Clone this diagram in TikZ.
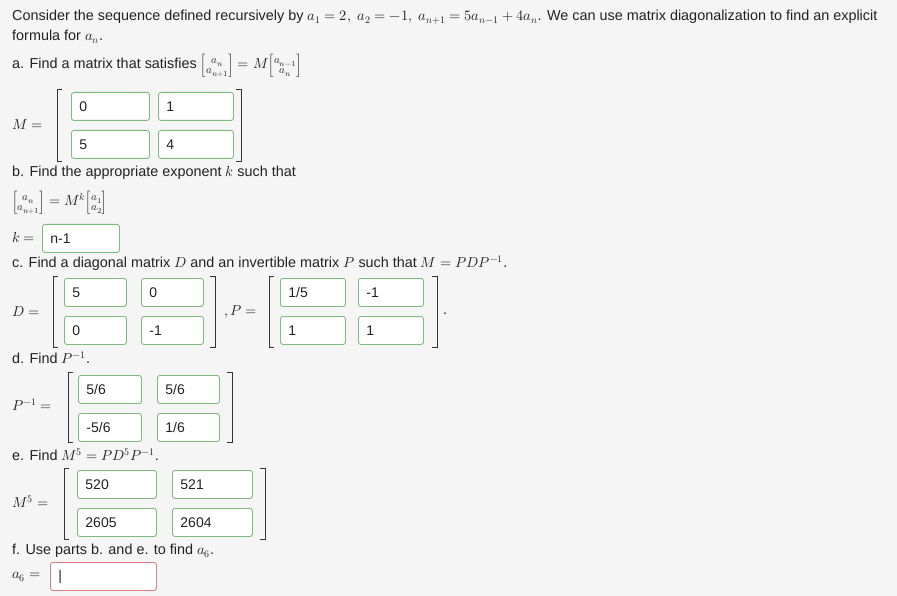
\documentclass[tikz,border=0pt]{standalone}
\usepackage{fontspec}
\setmainfont{Liberation Sans}
\usepackage{unicode-math}
\setmathfont{Latin Modern Math}
\definecolor{bg}{HTML}{F5F5F5}
\definecolor{okgreen}{HTML}{7DBB7D}
\definecolor{badred}{HTML}{E08080}
\definecolor{txt}{HTML}{222222}
\tikzset{
  t/.style={anchor=west, inner sep=0pt, font=\fontsize{14.4}{16}\selectfont, text=txt},
  ans/.style={draw=okgreen, line width=0.9pt, fill=white, rounded corners=2.5pt, anchor=north west,
     inner xsep=8pt, inner ysep=0pt, minimum height=28pt, align=left, font=\fontsize{14}{16}\selectfont, text=txt},
  brk/.style={draw=black!80, line width=0.8pt}
}
\newcommand{\lbrk}[3]{\draw[brk] (#1+5,#2) -- (#1,#2) -- (#1,#3) -- (#1+5,#3);}
\newcommand{\rbrk}[3]{\draw[brk] (#1-5,#2) -- (#1,#2) -- (#1,#3) -- (#1-5,#3);}
\newcommand{\smat}[2]{{\fontsize{11}{12}\selectfont$\left[\begin{matrix}#1\\[-2pt] #2\end{matrix}\right]$}}
\begin{document}
\begin{tikzpicture}[x=1pt,y=-1pt]
\useasboundingbox[fill=bg] (0,0) rectangle (897,596);
\node[t] (l1) at (12,17) {Consider the sequence defined recursively by $a_1=2,\ a_2=-1,\ a_{n+1}=5a_{n-1}+4a_n$. We can use matrix diagonalization to find an explicit};
\node[t] (l2) at (12,37) {formula for $a_n$.};
\node[t] (la) at (12,66) {a. Find a matrix that satisfies \smat{a_n}{a_{n+1}}${}=M$\smat{a_{n-1}}{a_n}};
% M
\node[t] (Meq) at (12,125) {$M=$};
\lbrk{57}{89}{161}
\node[ans, text width=62pt] (m11) at (71,92) {0};
\node[ans, text width=59pt] (m12) at (158,92) {1};
\node[ans, text width=62pt] (m21) at (71,130) {5};
\node[ans, text width=59pt] (m22) at (158,130) {4};
\rbrk{241}{89}{161}
% b
\node[t] (lb) at (12,173) {b. Find the appropriate exponent $k$ such that};
\node[t] (lb2) at (12,203) {\smat{a_n}{a_{n+1}}${}=M^k$\smat{a_1}{a_2}};
\node[t] (keq) at (12,238) {$k=$};
\node[ans, text width=61pt] (k) at (42,224) {n-1};
% c
\node[t] (lc) at (12,263) {c. Find a diagonal matrix $D$ and an invertible matrix $P$ such that $M=PDP^{-1}$.};
\node[t] (Deq) at (12,312) {$D=$};
\lbrk{53}{276}{347}
\node[ans, text width=46pt] (d11) at (64,278) {5};
\node[ans, text width=46pt] (d12) at (141,278) {0};
\node[ans, text width=46pt] (d21) at (64,316) {0};
\node[ans, text width=46pt] (d22) at (141,316) {-1};
\rbrk{215}{276}{347}
\node[t] (Peq) at (224,312) {$,P=$};
\lbrk{269}{276}{347}
\node[ans, text width=49pt] (p11) at (280,278) {1/5};
\node[ans, text width=49pt] (p12) at (358,278) {-1};
\node[ans, text width=49pt] (p21) at (280,316) {1};
\node[ans, text width=49pt] (p22) at (358,316) {1};
\rbrk{437}{276}{347}
\node[t] (dot) at (443,314) {.};
% d
\node[t] (ld) at (12,358) {d. Find $P^{-1}$.};
\node[t] (Pieq) at (12,405) {$P^{-1}=$};
\lbrk{68}{372}{442}
\node[ans, text width=47pt] (q11) at (78,375) {5/6};
\node[ans, text width=46pt] (q12) at (157,375) {5/6};
\node[ans, text width=47pt] (q21) at (78,413) {-5/6};
\node[ans, text width=46pt] (q22) at (157,413) {1/6};
\rbrk{232}{372}{442}
% e
\node[t] (le) at (12,455) {e. Find $M^5=PD^5P^{-1}$.};
\node[t] (M5eq) at (12,502) {$M^5=$};
\lbrk{64}{468}{539}
\node[ans, text width=63pt] (r11) at (77,470) {520};
\node[ans, text width=64pt] (r12) at (172,470) {521};
\node[ans, text width=63pt] (r21) at (77,508) {2605};
\node[ans, text width=64pt] (r22) at (172,508) {2604};
\rbrk{265}{468}{539}
% f
\node[t] (lf) at (12,551) {f. Use parts b. and e. to find $a_6$.};
\node[t] (a6eq) at (12,577) {$a_6=$};
\node[ans, draw=badred, text width=90pt] (a6) at (50,562) {|};
\end{tikzpicture}
\end{document}
